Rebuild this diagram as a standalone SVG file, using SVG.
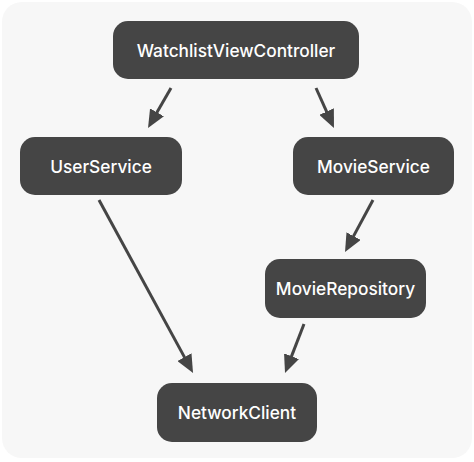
<svg xmlns="http://www.w3.org/2000/svg" width="474" height="462" viewBox="0 0 474 462">
<defs>
<style>
.node rect{fill:#454545;}
.node text{fill:#ffffff;font-family:Inter,"Noto Sans","Liberation Sans",sans-serif;font-size:17.3px;font-weight:500;text-anchor:middle;}
.edges line{stroke:#454545;stroke-width:3;}
</style>
<marker id="arr" markerUnits="userSpaceOnUse" markerWidth="18" markerHeight="16" refX="2" refY="8" orient="auto" viewBox="0 0 18 16">
<path d="M0,0 L18,8 L0,16 z" fill="#454545"/>
</marker>
</defs>
<rect width="474" height="462" fill="#ffffff"/>
<rect x="2" y="2" width="470" height="456" rx="20" fill="#f7f7f7"/>
<g class="edges">
<line x1="171" y1="88" x2="156" y2="114.1" marker-end="url(#arr)"/>
<line x1="316" y1="88" x2="327.4" y2="113.4" marker-end="url(#arr)"/>
<line x1="99" y1="200" x2="185.4" y2="358.9" marker-end="url(#arr)"/>
<line x1="373" y1="200" x2="352.6" y2="237.9" marker-end="url(#arr)"/>
<line x1="304" y1="324" x2="290.8" y2="358.1" marker-end="url(#arr)"/>
</g>
<g id="WatchlistViewController" class="node"><rect x="113" y="21" width="246" height="58" rx="15"/><text x="236" y="56.5">WatchlistViewController</text></g>
<g id="UserService" class="node"><rect x="20" y="137" width="162" height="58" rx="15"/><text x="101" y="172.5">UserService</text></g>
<g id="MovieService" class="node"><rect x="293" y="137" width="161" height="58" rx="15"/><text x="373.5" y="172.5">MovieService</text></g>
<g id="MovieRepository" class="node"><rect x="265" y="259" width="161" height="59" rx="15"/><text x="345.5" y="295">MovieRepository</text></g>
<g id="NetworkClient" class="node"><rect x="157" y="383" width="160" height="59" rx="15"/><text x="237" y="419">NetworkClient</text></g>
</svg>
